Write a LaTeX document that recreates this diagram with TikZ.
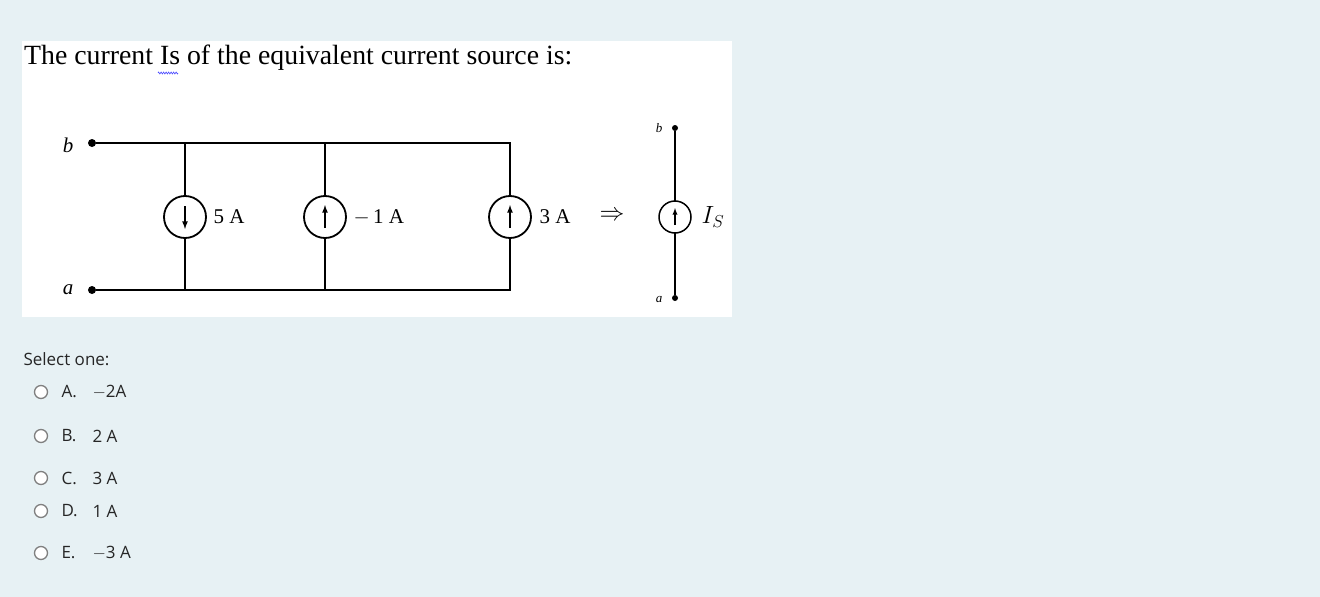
\documentclass[tikz,border=0pt]{standalone}
\usepackage{fontspec}
\usetikzlibrary{decorations.pathmorphing}
\setmainfont{Liberation Serif}
\newfontfamily\uifont{Open Sans}
\begin{document}
\begin{tikzpicture}[x=1pt,y=-1pt,
  wire/.style={line width=2.2pt},
  src/.style={circle,draw,line width=1.8pt,minimum size=42pt,inner sep=0pt,fill=white},
  srcs/.style={circle,draw,line width=1.5pt,minimum size=32pt,inner sep=0pt,fill=white},
  term/.style={circle,fill=black,inner sep=0pt,minimum size=8pt},
  lab/.style={font=\fontsize{21}{21}\selectfont,anchor=west},
  opt/.style={font=\uifont\fontsize{17}{17}\selectfont,anchor=west,text=black!85},
  radio/.style={circle,draw=gray,line width=1.3pt,minimum size=13pt,inner sep=0pt,fill=white}]
\fill[fill={rgb,255:red,231;green,241;blue,244}] (0,0) rectangle (1320,597);
\useasboundingbox (0,0) rectangle (1320,597);
\fill[white] (22,41) rectangle (732,317);
\node[anchor=west,font=\fontsize{27.8}{28}\selectfont,inner sep=0pt] (title) at (24,58) {The current Is of the equivalent current source is:};
\draw[blue!70,line width=0.6pt,decorate,decoration={zigzag,amplitude=1pt,segment length=2.5pt}] (158,73) -- (178,73);
% left circuit
\node[term] (b) at (92,143) {};
\node[term] (a) at (92,290) {};
\node[font=\itshape\fontsize{21}{21}\selectfont] (lb) at (68,145) {b};
\node[font=\itshape\fontsize{21}{21}\selectfont] (la) at (68,290) {a};
\coordinate (t1) at (185,143); \coordinate (t2) at (325,143); \coordinate (t3) at (510,143);
\coordinate (b1) at (185,290); \coordinate (b2) at (325,290); \coordinate (b3) at (510,290);
\draw[wire] (b) -- (t3) -- (b3) -- (a);
\draw[wire] (t1) -- (b1);
\draw[wire] (t2) -- (b2);
\node[src] (s1) at (185,217) {};
\node[src] (s2) at (325,217) {};
\node[src] (s3) at (510,217) {};
\draw[-latex,line width=1.6pt] ([yshift=11pt]s1.center) -- ([yshift=-12pt]s1.center);
\draw[-latex,line width=1.6pt] ([yshift=-11pt]s2.center) -- ([yshift=12pt]s2.center);
\draw[-latex,line width=1.6pt] ([yshift=-11pt]s3.center) -- ([yshift=12pt]s3.center);
\node[lab] (l1) at (210,217) {5 A};
\node[lab] (l2) at (350,217) {$-$\,1 A};
\node[lab] (l3) at (536,217) {3 A};
\node[font=\fontsize{26}{26}\selectfont] (imp) at (612,216) {$\Rightarrow$};
% right equivalent
\node[term,minimum size=6pt] (rb) at (675,128) {};
\node[term,minimum size=6pt] (ra) at (675,298) {};
\node[font=\itshape\fontsize{13}{13}\selectfont] at (659,128) {b};
\node[font=\itshape\fontsize{13}{13}\selectfont] at (659,300) {a};
\draw[line width=1.6pt] (rb) -- (ra);
\node[srcs] (s4) at (675,217) {};
\draw[-latex,line width=1.3pt] ([yshift=-8pt]s4.center) -- ([yshift=9pt]s4.center);
\node[lab,font=\fontsize{25}{25}\selectfont] (is) at (698,217) {$I_S$};
% options
\node[opt] (sel) at (20,359) {Select one:};
\foreach \y/\l/\v in {392/A./$-$2A,436/B./2 A,478/C./3 A,511/D./1 A,553/E./$-$3 A}{
  \node[radio] at (41,\y) {};
  \node[opt] at (58,\y) {\l};
  \node[opt] at (89,\y) {\v};
}
\end{tikzpicture}
\end{document}
